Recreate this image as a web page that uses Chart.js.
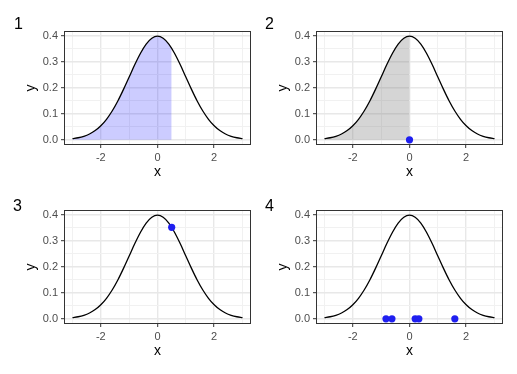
<!DOCTYPE html>
<html>
<head>
<meta charset="utf-8">
<script src="https://cdn.jsdelivr.net/npm/chart.js@4.4.1/dist/chart.umd.min.js"></script>
<style>
  body { margin: 0; background: #ffffff; }
  #wrap { position: relative; width: 517px; height: 374px; overflow: hidden; background: #fff; }
  .panel { position: absolute; width: 258px; height: 187px; }
  .lab { position: absolute; font: 16px/16px "Liberation Sans", Arial, sans-serif; color: #000; }
</style>
</head>
<body>
<div id="wrap">
  <div class="panel" style="left:0px;top:0px"><canvas id="c1" width="258" height="187"></canvas></div>
  <div class="panel" style="left:252px;top:0px"><canvas id="c2" width="258" height="187"></canvas></div>
  <div class="panel" style="left:0px;top:179px"><canvas id="c3" width="258" height="187"></canvas></div>
  <div class="panel" style="left:252px;top:179px"><canvas id="c4" width="258" height="187"></canvas></div>
  <div class="lab" style="left:14px;top:16px">1</div>
  <div class="lab" style="left:265px;top:16px">2</div>
  <div class="lab" style="left:13px;top:198px">3</div>
  <div class="lab" style="left:265px;top:198px">4</div>
</div>
<script>
// density curve
const curveX = [-3, -2.8, -2.6, -2.4, -2.2, -2, -1.8, -1.6, -1.4, -1.2, -1, -0.8, -0.6, -0.4, -0.2, 0,
                0.2, 0.4, 0.6, 0.8, 1, 1.2, 1.4, 1.6, 1.8, 2, 2.2, 2.4, 2.6, 2.8, 3];
const curveY = [0.0044, 0.0079, 0.0136, 0.0224, 0.0355, 0.0540, 0.0790, 0.1109, 0.1497, 0.1942, 0.2420, 0.2897, 0.3332, 0.3683, 0.3910, 0.3989,
                0.3910, 0.3683, 0.3332, 0.2897, 0.2420, 0.1942, 0.1497, 0.1109, 0.0790, 0.0540, 0.0355, 0.0224, 0.0136, 0.0079, 0.0044];

// shaded areas
const area1X = [-3, -2.8, -2.6, -2.4, -2.2, -2, -1.8, -1.6, -1.4, -1.2, -1, -0.8, -0.6, -0.4, -0.2, 0, 0.2, 0.4, 0.5];
const area1Y = [0.0044, 0.0079, 0.0136, 0.0224, 0.0355, 0.0540, 0.0790, 0.1109, 0.1497, 0.1942, 0.2420, 0.2897, 0.3332, 0.3683, 0.3910, 0.3989, 0.3910, 0.3683, 0.3521];
const area2X = [-3, -2.8, -2.6, -2.4, -2.2, -2, -1.8, -1.6, -1.4, -1.2, -1, -0.8, -0.6, -0.4, -0.2, 0];
const area2Y = [0.0044, 0.0079, 0.0136, 0.0224, 0.0355, 0.0540, 0.0790, 0.1109, 0.1497, 0.1942, 0.2420, 0.2897, 0.3332, 0.3683, 0.3910, 0.3989];

// blue points
const pts2X = [0];
const pts2Y = [0];
const pts3X = [0.5];
const pts3Y = [0.3521];
const pts4X = [-0.83, -0.62, 0.2, 0.33, 1.6];
const pts4Y = [0, 0, 0, 0, 0];

// ticks
const xTicks = [-3, -2, -1, 0, 1, 2, 3];
const xLabels = [-2, 0, 2];
const yTicks = [0, 0.05, 0.1, 0.15, 0.2, 0.25, 0.3, 0.35, 0.4];
const yLabels = [0, 0.1, 0.2, 0.3, 0.4];

const FONT = '"Liberation Sans", Arial, sans-serif';

function toXY(xs, ys) {
    return xs.map((x, i) => ({ x: x, y: ys[i] }));
}

function isLabel(list, v) {
    return list.some(l => Math.abs(l - v) < 1e-9);
}

const borderPlugin = {
    id: 'panelBorder',
    afterDraw(chart) {
        const a = chart.chartArea;
        const ctx = chart.ctx;
        ctx.save();
        ctx.strokeStyle = '#333333';
        ctx.lineWidth = 1;
        ctx.strokeRect(Math.round(a.left) + 0.5, Math.round(a.top) + 0.5,
                       Math.round(a.right - a.left) - 1, Math.round(a.bottom - a.top) - 1);
        ctx.restore();
    }
};

function makeScale(ticks, labels, fmt, title, isX) {
    return {
        type: 'linear',
        min: isX ? -3.3 : -0.02,
        max: isX ? 3.3 : 0.419,
        afterBuildTicks: scale => {
            scale.ticks = ticks.map(v => ({ value: v }));
        },
        afterFit: scale => {
            if (isX) scale.height = 42;
            else scale.width = 41;
        },
        border: { display: false },
        grid: {
            color: c => isLabel(labels, c.tick.value) ? '#e8e8e8' : '#f1f1f1',
            lineWidth: c => isLabel(labels, c.tick.value) ? 1.4 : 1,
            tickColor: c => isLabel(labels, c.tick.value) ? '#333333' : 'rgba(0,0,0,0)',
            tickLength: 3,
            tickWidth: 1
        },
        ticks: {
            autoSkip: false,
            maxRotation: 0,
            padding: 3,
            color: '#4d4d4d',
            font: { family: FONT, size: 11 },
            callback: v => isLabel(labels, v) ? fmt(v) : ''
        },
        title: {
            display: true,
            text: title,
            color: '#000000',
            font: { family: FONT, size: 14 },
            padding: isX ? { top: 0, bottom: 6 } : { top: 0, bottom: 0 }
        }
    };
}

function drawPanel(id, extra) {
    const datasets = [];
    if (extra.points) {
        datasets.push({
            data: extra.points,
            backgroundColor: '#1f1ff0',
            borderColor: '#1f1ff0',
            pointRadius: 3.6,
            pointBorderWidth: 0,
            showLine: false
        });
    }
    datasets.push({
        data: toXY(curveX, curveY),
        showLine: true,
        borderColor: '#000000',
        borderWidth: 1.3,
        pointRadius: 0,
        cubicInterpolationMode: 'monotone',
        fill: false
    });
    if (extra.area) {
        datasets.push({
            data: extra.area,
            showLine: true,
            borderWidth: 0,
            borderColor: 'rgba(0,0,0,0)',
            backgroundColor: extra.areaColor,
            pointRadius: 0,
            cubicInterpolationMode: 'monotone',
            fill: 'origin'
        });
    }

    new Chart(document.getElementById(id), {
        type: 'scatter',
        data: { datasets: datasets },
        options: {
            responsive: false,
            animation: false,
            layout: { padding: { left: 23, right: 7, top: 31, bottom: 0 } },
            plugins: {
                legend: { display: false },
                tooltip: { enabled: false }
            },
            scales: {
                x: makeScale(xTicks, xLabels, v => String(v), 'x', true),
                y: makeScale(yTicks, yLabels, v => v.toFixed(1), 'y', false)
            }
        },
        plugins: [borderPlugin]
    });
}

drawPanel('c1', { area: toXY(area1X, area1Y), areaColor: 'rgba(0,0,255,0.2)' });
drawPanel('c2', { area: toXY(area2X, area2Y), areaColor: 'rgba(128,128,128,0.33)', points: toXY(pts2X, pts2Y) });
drawPanel('c3', { points: toXY(pts3X, pts3Y) });
drawPanel('c4', { points: toXY(pts4X, pts4Y) });
</script>
</body>
</html>
